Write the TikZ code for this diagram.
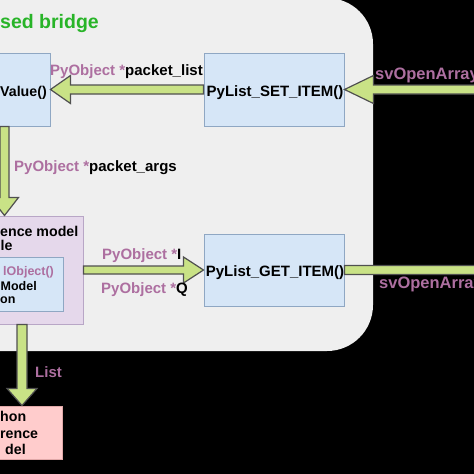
\documentclass[tikz,border=0pt]{standalone}
\usepackage{fontspec}
\setmainfont{Liberation Sans}
\usetikzlibrary{calc}
\definecolor{greybg}{HTML}{EFEFEF}
\definecolor{bluefill}{HTML}{D6E6F7}
\definecolor{blueline}{HTML}{8FA7C3}
\definecolor{purpfill}{HTML}{E5D8EB}
\definecolor{purpline}{HTML}{B8A6C6}
\definecolor{pinkfill}{HTML}{FFCCCC}
\definecolor{pinkline}{HTML}{E0A8A8}
\definecolor{arrfill}{HTML}{C9E286}
\definecolor{arrline}{HTML}{505050}
\definecolor{mauve}{HTML}{AD6FA0}
\definecolor{titlegreen}{HTML}{28B428}
\tikzset{
  boxbase/.style={draw, line width=1pt, inner sep=0pt},
  bluebox/.style={boxbase, fill=bluefill, draw=blueline},
  purpbox/.style={boxbase, fill=purpfill, draw=purpline},
  pinkbox/.style={boxbase, fill=pinkfill, draw=pinkline},
  arrowstyle/.style={fill=arrfill, draw=arrline, line width=1.2pt, line join=miter},
  txt/.style={inner sep=0pt, font=\bfseries\fontsize{15}{18}\selectfont},
  midtxt/.style={inner sep=0pt, font=\bfseries\fontsize{14.2}{17}\selectfont},
  svtxt/.style={inner sep=0pt, text=mauve, font=\bfseries\fontsize{16.5}{19}\selectfont},
  smalltxt/.style={inner sep=0pt, font=\bfseries\fontsize{12.5}{15}\selectfont},
}
% #1 start, #2 tip, #3 shaft half width, #4 head half width, #5 head length
\newcommand\blkarrow[5]{%
  \draw[arrowstyle] let \p1=(#1), \p2=(#2),
     \n1={atan2(\y2-\y1,\x2-\x1)}, \n2={veclen(\x2-\x1,\y2-\y1)} in
     [shift={(\p1)}, rotate=\n1]
     (0pt,#3pt) -- ({\n2*1pt-#5pt},#3pt) -- ({\n2*1pt-#5pt},#4pt) -- ({\n2*1pt},0pt)
     -- ({\n2*1pt-#5pt},-#4pt) -- ({\n2*1pt-#5pt},-#3pt) -- (0pt,-#3pt) -- cycle;}
\begin{document}
\begin{tikzpicture}[x=1pt,y=-1pt]
\useasboundingbox (0,0) rectangle (474,474);
\fill[black] (0,0) rectangle (474,474);
\fill[greybg, rounded corners=46pt] (-60,-2) rectangle (373,351);

% boxes
\node[bluebox, minimum width=110pt, minimum height=73pt] (value) at (-5,89.5) {};
\node[bluebox, minimum width=140pt, minimum height=73pt] (set) at (274,89.5) {};
\node[purpbox, minimum width=143pt, minimum height=108pt] (purple) at (11.5,270) {};
\node[bluebox, minimum width=123pt, minimum height=54pt] (inner) at (1.5,284) {};
\node[bluebox, minimum width=140pt, minimum height=72pt] (get) at (274,270) {};
\node[pinkbox, minimum width=122pt, minimum height=53pt] (pink) at (1,432.5) {};

% helper coordinates
\coordinate (colA) at (4.5,0);
\coordinate (colB) at (22,0);
\coordinate (rin) at (480,89.5);
\coordinate (rout) at (510,270);

% arrows
\blkarrow{set.west}{value.east}{4.5}{14}{20}
\blkarrow{rin}{set.east}{4.5}{14}{29}
\blkarrow{value.south -| colA}{purple.north -| colA}{4.5}{14}{18}
\blkarrow{purple.east}{get.west}{4}{13}{20}
\blkarrow{get.east}{rout}{4.5}{14}{20}
\blkarrow{purple.south -| colB}{pink.north -| colB}{5}{15}{17}

% texts
\node[txt, anchor=base west, text=titlegreen, font=\bfseries\fontsize{19.5}{23}\selectfont] (title) at (0,28) {sed bridge};
\node[midtxt, anchor=base west] (valueT) at (0,96) {Value()};
\node[txt, anchor=base] (setT) at (275,96) {PyList\_SET\_ITEM()};
\node[txt, anchor=base west] (lab1) at (50,75) {\textcolor{mauve}{PyObject *}packet\_list};
\node[svtxt, anchor=base west] (sv1) at (375,79) {svOpenArray};
\node[txt, anchor=base west] (lab2) at (14,171) {\textcolor{mauve}{PyObject *}packet\_args};
\node[midtxt, anchor=base west] (pT1) at (0,236) {ence model};
\node[midtxt, anchor=base west] (pT2) at (0.5,250) {le};
\node[smalltxt, anchor=base west, text=mauve] (iT1) at (3,275) {lObject()};
\node[smalltxt, anchor=base west] (iT2) at (0.5,290) {Model};
\node[smalltxt, anchor=base west] (iT3) at (0,303) {on};
\node[txt, anchor=base west] (lab3) at (102,259) {\textcolor{mauve}{PyObject *}I};
\node[txt, anchor=base west] (lab4) at (101,293) {\textcolor{mauve}{PyObject *}Q};
\node[txt, anchor=base] (getT) at (275,276) {PyList\_GET\_ITEM()};
\node[svtxt, anchor=base west] (sv2) at (379,288) {svOpenArray};
\node[txt, anchor=base west, text=mauve] (listT) at (35,377) {List};
\node[midtxt, anchor=base west] (pk1) at (0,421) {hon};
\node[midtxt, anchor=base west] (pk2) at (0,438) {rence};
\node[midtxt, anchor=base west] (pk3) at (5,454) {del};
\end{tikzpicture}
\end{document}
